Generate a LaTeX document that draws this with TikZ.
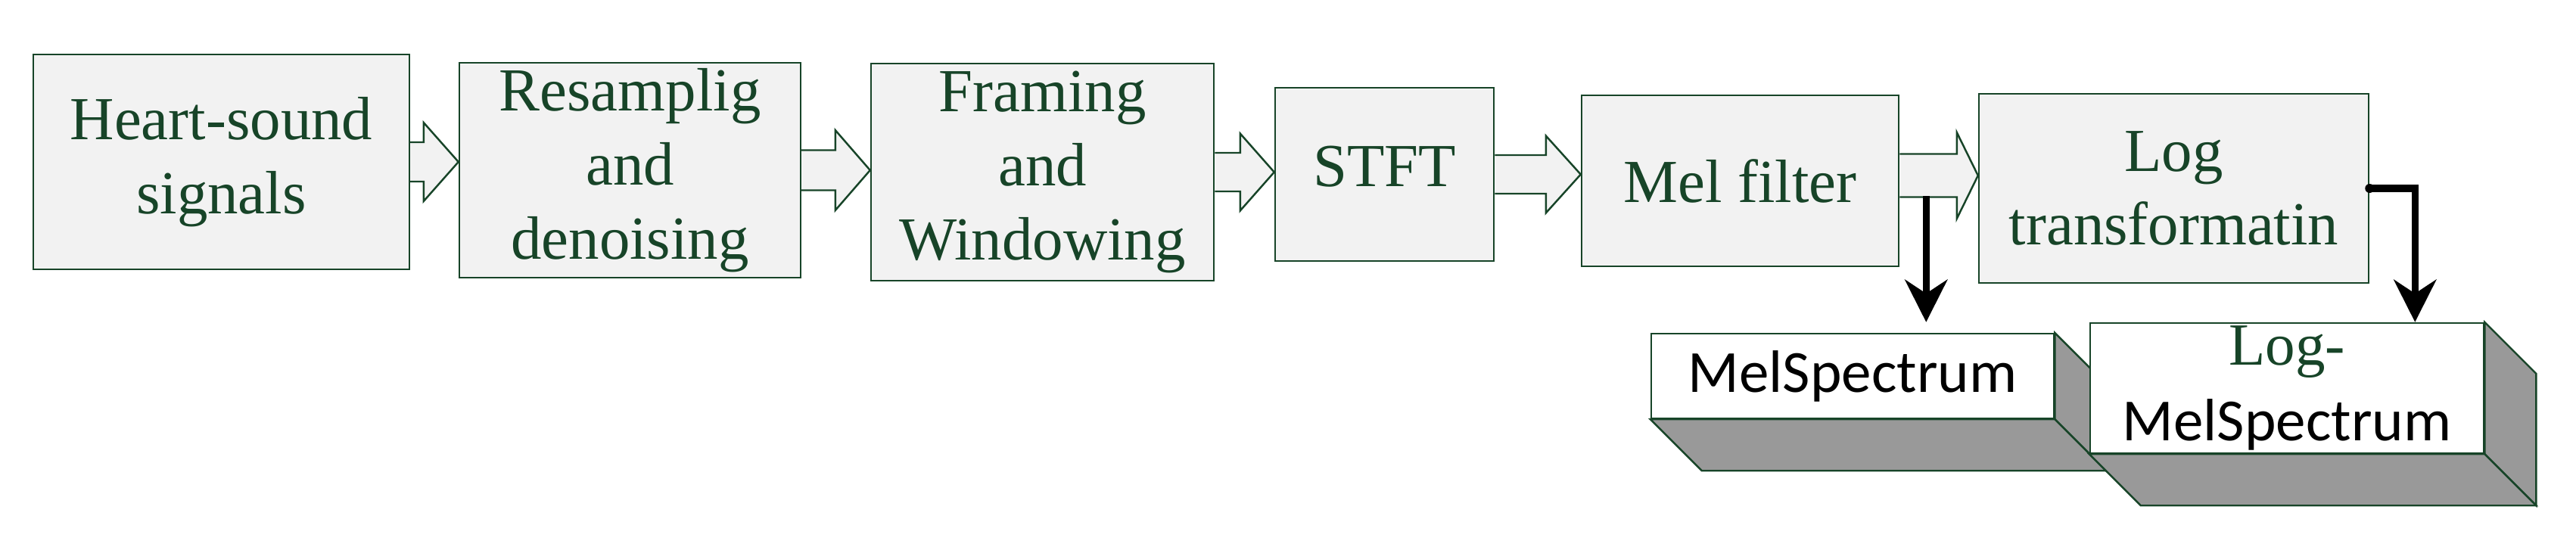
\documentclass[tikz,border=0pt]{standalone}
\usepackage{fontspec}
\setmainfont{Liberation Serif}
\newfontfamily\calibri{Carlito}
\usetikzlibrary{calc,arrows.meta,backgrounds}
\definecolor{darkgreen}{HTML}{174428}
\definecolor{boxgray}{HTML}{F2F2F2}
\definecolor{sidegray}{HTML}{999999}
\tikzset{
  stage/.style={draw=darkgreen,fill=boxgray,line width=0.7pt,text=darkgreen,
    inner sep=0pt,align=center,font=\fontsize{23}{27.8}\selectfont},
  store/.style={draw=darkgreen,fill=white,line width=0.7pt,text=black,
    inner sep=0pt,align=center,font=\fontsize{22.5}{28.4}\calibri},
  side/.style={draw=darkgreen,fill=sidegray,line width=0.7pt},
  blockarrow/.style={draw=darkgreen,fill=boxgray,line width=0.7pt},
  outarrow/.style={line width=2.6pt,-{Stealth[length=0.56cm,width=0.56cm]}}
}
\begin{document}
\begin{tikzpicture}
\useasboundingbox (0,0) rectangle (34.04,7.26);
\node[stage,minimum width=4.97cm,minimum height=2.84cm] (sig) at (2.925,5.12) {Heart-sound\\signals};
\node[stage,minimum width=4.51cm,minimum height=2.84cm] (res) at (8.325,5.01) {Resamplig\\and\\denoising};
\node[stage,minimum width=4.53cm,minimum height=2.87cm] (frm) at (13.775,4.985) {Framing\\and\\Windowing};
\node[stage,minimum width=2.89cm,minimum height=2.29cm,text depth=0.22cm] (stft) at (18.295,4.955) {STFT};
\node[stage,minimum width=4.19cm,minimum height=2.26cm] (mel) at (22.995,4.87) {Mel filter};
\node[stage,minimum width=5.15cm,minimum height=2.5cm] (log) at (28.725,4.77) {Log\\transformatin};
\node[store,minimum width=5.32cm,minimum height=1.12cm] (mspec) at (24.48,2.29) {MelSpectrum};
\node[store,minimum width=5.2cm,minimum height=1.72cm] (lspec) at (30.22,2.13) {{\rmfamily\color{darkgreen}Log-}\\MelSpectrum};
\begin{scope}[on background layer]
\foreach \p/\q/\hl/\hw/\dy in {sig/res/0.46/0.26/0, res/frm/0.46/0.265/0,
    frm/stft/0.45/0.255/0, stft/mel/0.46/0.255/0, mel/log/0.28/0.285/0.07}
  \path[blockarrow] ($(\p.east)+(0,\dy+\hw)$) -- ($(\p.east -| \q.west)+(-\hl,\dy+\hw)$)
    -- ++(0,\hw) -- ($(\p.east -| \q.west)+(0,\dy)$)
    -- ($(\p.east -| \q.west)+(-\hl,\dy-2*\hw)$) -- ++(0,\hw)
    -- ($(\p.east)+(0,\dy-\hw)$);
\foreach \n in {mspec,lspec} {
  \path[side] (\n.north east) -- ++(0.68,-0.68) -- ($(\n.south east)+(0.68,-0.68)$)
    -- (\n.south east) -- cycle;
  \path[side] (\n.south west) -- (\n.south east) -- ++(0.68,-0.68)
    -- ($(\n.south west)+(0.68,-0.68)$) -- cycle;
}
\end{scope}
\coordinate (melout) at ($(mel.east)+(0.35,-0.2)$);
\draw[outarrow,shorten >=0.14cm] (melout) -- (melout |- mspec.north);
\fill (log.east) circle (0.06);
\draw[outarrow] (log.east) -- ++(0.6,0) coordinate (logout) -- (logout |- lspec.north);
\end{tikzpicture}
\end{document}
